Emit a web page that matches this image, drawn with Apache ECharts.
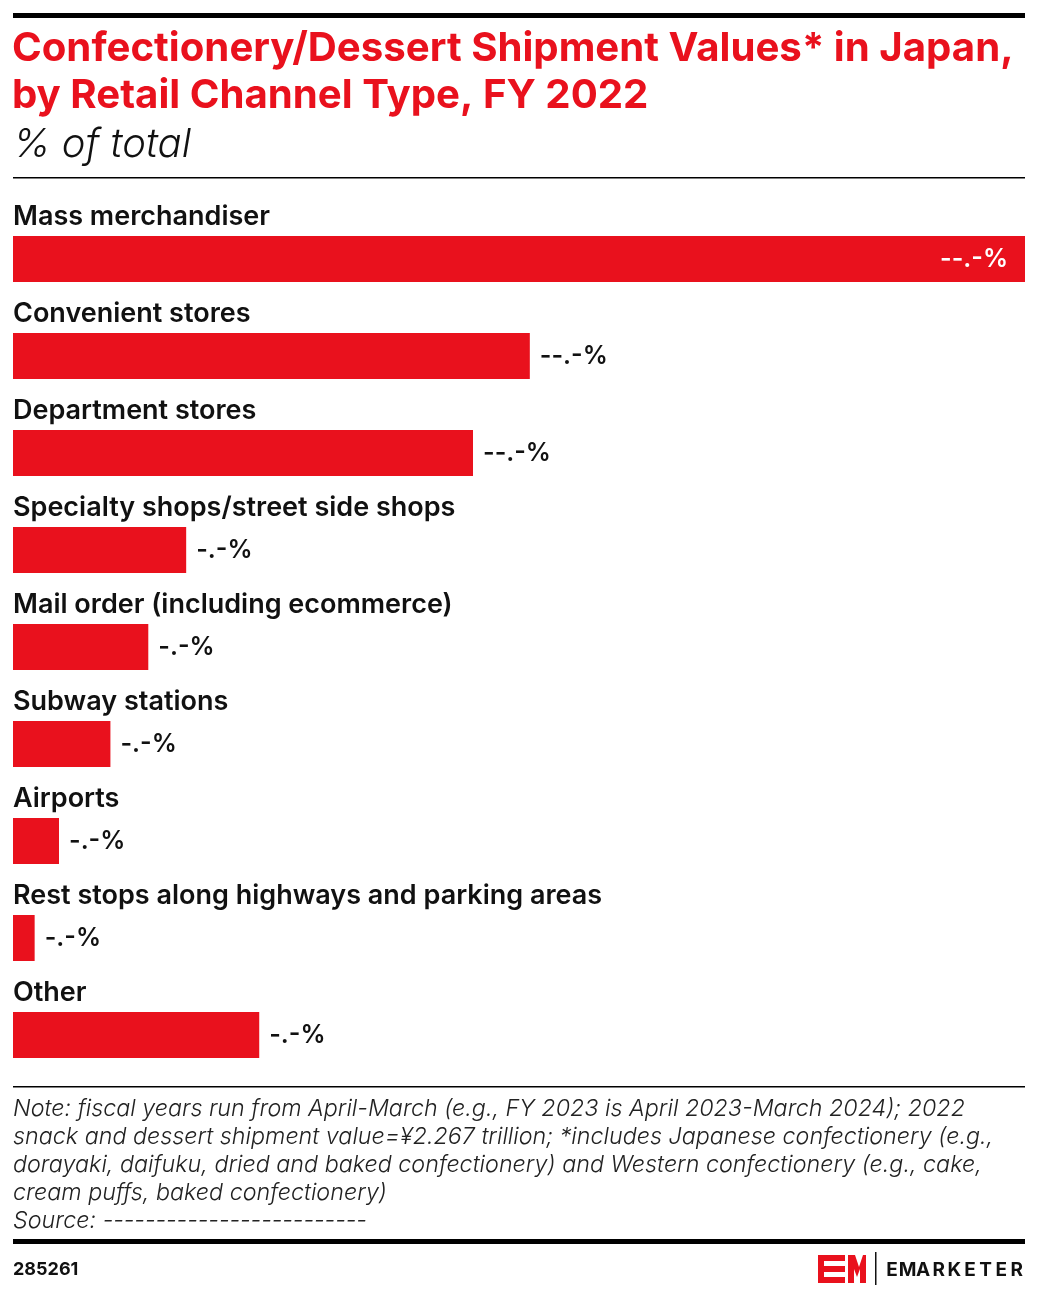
<!DOCTYPE html>
<html><head><meta charset="utf-8">
<script src="https://cdn.jsdelivr.net/npm/echarts@6/dist/echarts.min.js"></script>
<style>html,body{margin:0;padding:0;background:#fff}#c{width:1038px;height:1299px}</style>
</head><body><div id="c"></div>
<script>
const categories = [
  'Mass merchandiser',
  'Convenient stores',
  'Department stores',
  'Specialty shops/street side shops',
  'Mail order (including ecommerce)',
  'Subway stations',
  'Airports',
  'Rest stops along highways and parking areas',
  'Other'
];
const values = [37.4, 19.1, 17.0, 6.4, 5.0, 3.6, 1.7, 0.8, 9.1];
const valueLabels = ['--.-%', '--.-%', '--.-%', '-.-%', '-.-%', '-.-%', '-.-%', '-.-%', '-.-%'];
const titleLines = ['Confectionery/Dessert Shipment Values* in Japan,', 'by Retail Channel Type, FY 2022'];
const subtitle = '% of total';
const noteLines = [
  'Note: fiscal years run from April-March (e.g., FY 2023 is April 2023-March 2024); 2022',
  'snack and dessert shipment value=\u00a52.267 trillion; *includes Japanese confectionery (e.g.,',
  'dorayaki, daifuku, dried and baked confectionery) and Western confectionery (e.g., cake,',
  'cream puffs, baked confectionery)',
  'Source: -------------------------'
];
const chartId = '285261';
const brand = 'EMARKETER';

const RED = '#e9111d';
const SANS = 'Inter, "Noto Sans", sans-serif';

const chart = echarts.init(document.getElementById('c'), null, {renderer: 'canvas'});

const graphics = [];
// rules
graphics.push({type: 'rect', shape: {x: 13, y: 13, width: 1012, height: 5}, style: {fill: '#000'}});
graphics.push({type: 'rect', shape: {x: 13, y: 177, width: 1012, height: 1.5}, style: {fill: '#000'}});
graphics.push({type: 'rect', shape: {x: 13, y: 1086, width: 1012, height: 1.5}, style: {fill: '#000'}});
graphics.push({type: 'rect', shape: {x: 13, y: 1239, width: 1012, height: 5}, style: {fill: '#000'}});
// title
titleLines.forEach((t, i) => {
  graphics.push({type: 'text', style: {text: t, x: 12, y: 29 + i * 47, fill: RED,
    font: '700 40.2px ' + SANS, textVerticalAlign: 'top'}});
});
graphics.push({type: 'text', style: {text: subtitle, x: 13, y: 125, fill: '#111',
  font: 'italic 300 40px ' + SANS, textVerticalAlign: 'top'}});
noteLines.forEach((t, i) => {
  graphics.push({type: 'text', style: {text: t, x: 13, y: 1097 + i * 28, fill: '#222',
    font: 'italic 300 23.3px ' + SANS, textVerticalAlign: 'top'}});
});
graphics.push({type: 'text', style: {text: chartId, x: 13, y: 1261, fill: '#111',
  font: '700 18px ' + SANS, textVerticalAlign: 'top'}});
// logo mark
const lx = 818, ly = 1255;
graphics.push({type: 'rect', shape: {x: lx, y: ly, width: 27, height: 6}, style: {fill: RED}});
graphics.push({type: 'rect', shape: {x: lx + 4, y: ly + 11, width: 23, height: 6}, style: {fill: RED}});
graphics.push({type: 'rect', shape: {x: lx, y: ly + 22, width: 27, height: 6}, style: {fill: RED}});
graphics.push({type: 'rect', shape: {x: lx, y: ly, width: 6, height: 28}, style: {fill: RED}});
graphics.push({type: 'polygon', shape: {points: [[lx + 30, ly + 28], [lx + 30, ly], [lx + 37, ly], [lx + 41, ly + 12], [lx + 45, ly], [lx + 48, ly], [lx + 48, ly + 28], [lx + 42, ly + 28], [lx + 42, ly + 14], [lx + 39, ly + 22], [lx + 36, ly + 14], [lx + 36, ly + 28]]}, style: {fill: RED}});
graphics.push({type: 'rect', shape: {x: 875, y: 1252, width: 1.5, height: 33}, style: {fill: '#111'}});
brand.split('').forEach((ch, i) => {
  graphics.push({type: 'text', style: {text: ch, x: 892 + i * 15.6, y: 1270, fill: '#111',
    font: '700 19px ' + SANS, textAlign: 'center', textVerticalAlign: 'middle'}});
});

const barData = values.map((v, i) => {
  const item = {value: v};
  if (i === 0) {
    item.label = {position: 'insideRight', color: '#fff', distance: 17};
  }
  return item;
});

chart.setOption({
  animation: false,
  grid: {left: 13, right: 13, top: 210.5, bottom: 215.5, containLabel: false},
  xAxis: {type: 'value', min: 0, max: 'dataMax', show: false},
  yAxis: {type: 'category', data: categories, inverse: true, show: false},
  series: [
    {
      type: 'bar', data: barData, barWidth: 46, itemStyle: {color: RED},
      label: {show: true, position: 'right', distance: 10, color: '#111',
        fontFamily: SANS, fontWeight: 600, fontSize: 25,
        formatter: p => valueLabels[p.dataIndex]}
    },
    {
      type: 'bar', data: values, barWidth: 46, barGap: '-100%', silent: true,
      itemStyle: {color: 'rgba(0,0,0,0)'},
      label: {show: true, position: [0, -6], align: 'left', verticalAlign: 'bottom',
        color: '#111', fontFamily: SANS, fontWeight: 600, fontSize: 27,
        formatter: p => p.name}
    }
  ],
  graphic: graphics
});
</script></body></html>
